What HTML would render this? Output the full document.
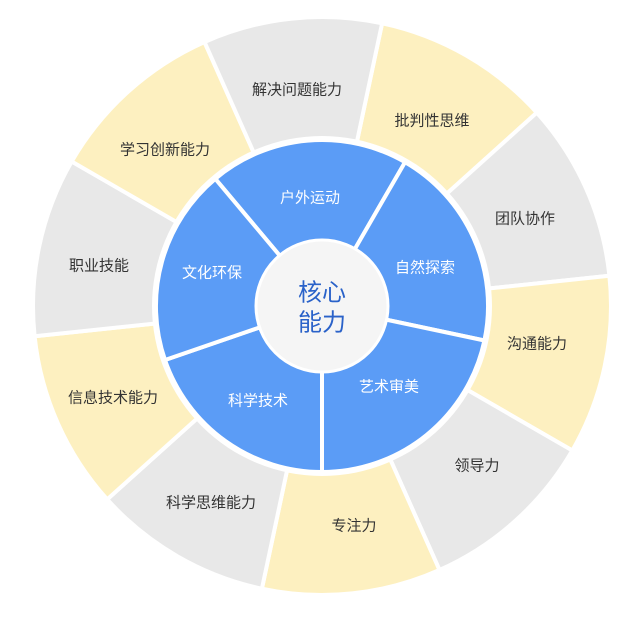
<!DOCTYPE html>
<html><head><meta charset="utf-8"><style>
html,body{margin:0;padding:0;background:#fff;width:640px;height:617px;overflow:hidden}
svg text{font-family:"Liberation Sans","Noto Sans CJK SC",sans-serif;text-anchor:middle;dominant-baseline:central}
</style></head><body>
<svg id="s" width="640" height="617" viewBox="0 0 640 617" xmlns="http://www.w3.org/2000/svg">
<g id="outer"></g>
<circle cx="322" cy="306" r="170" fill="#fff"/>
<g id="inner"></g>
<circle cx="322" cy="306" r="66" fill="#f5f5f5" stroke="#fff" stroke-width="3"/>
<g font-size="15" fill="#333">
<text x="297" y="90">解决问题能力</text>
<text x="432" y="121">批判性思维</text>
<text x="525" y="219">团队协作</text>
<text x="537" y="344">沟通能力</text>
<text x="477" y="466">领导力</text>
<text x="354" y="526">专注力</text>
<text x="211" y="503">科学思维能力</text>
<text x="113" y="398">信息技术能力</text>
<text x="99" y="266">职业技能</text>
<text x="165" y="150">学习创新能力</text>
</g>
<g font-size="15" fill="#fff">
<text x="310" y="198">户外运动</text>
<text x="425" y="268">自然探索</text>
<text x="389" y="387">艺术审美</text>
<text x="258" y="401">科学技术</text>
<text x="212" y="273">文化环保</text>
</g>
<g font-size="24" fill="#2a62c9">
<text x="322" y="293">核心</text>
<text x="322" y="323">能力</text>
</g>
</svg>
<script>
var cx=322,cy=306,NS="http://www.w3.org/2000/svg";
function pt(r,a){a=a*Math.PI/180;return (cx+r*Math.cos(a)).toFixed(1)+","+(cy+r*Math.sin(a)).toFixed(1);}
function wedge(g,r,a0,a1,fill){var p=document.createElementNS(NS,"path");
p.setAttribute("d","M"+cx+","+cy+" L"+pt(r,a0)+" A"+r+","+r+" 0 "+((a1-a0)>180?1:0)+" 1 "+pt(r,a1)+" Z");
p.setAttribute("fill",fill);p.setAttribute("stroke","#fff");p.setAttribute("stroke-width","4");p.setAttribute("stroke-linejoin","round");g.appendChild(p);}
var o=document.getElementById("outer");
for(var k=0;k<10;k++){var a0=-78+36*k;wedge(o,289,a0,a0+36,k%2==0?"#fdf0c0":"#e8e8e8");}
var i=document.getElementById("inner"),b=[-130,-60,12,90,161,230];
for(var k=0;k<5;k++)wedge(i,166,b[k],b[k+1],"#5b9cf6");
</script>
</body></html>
